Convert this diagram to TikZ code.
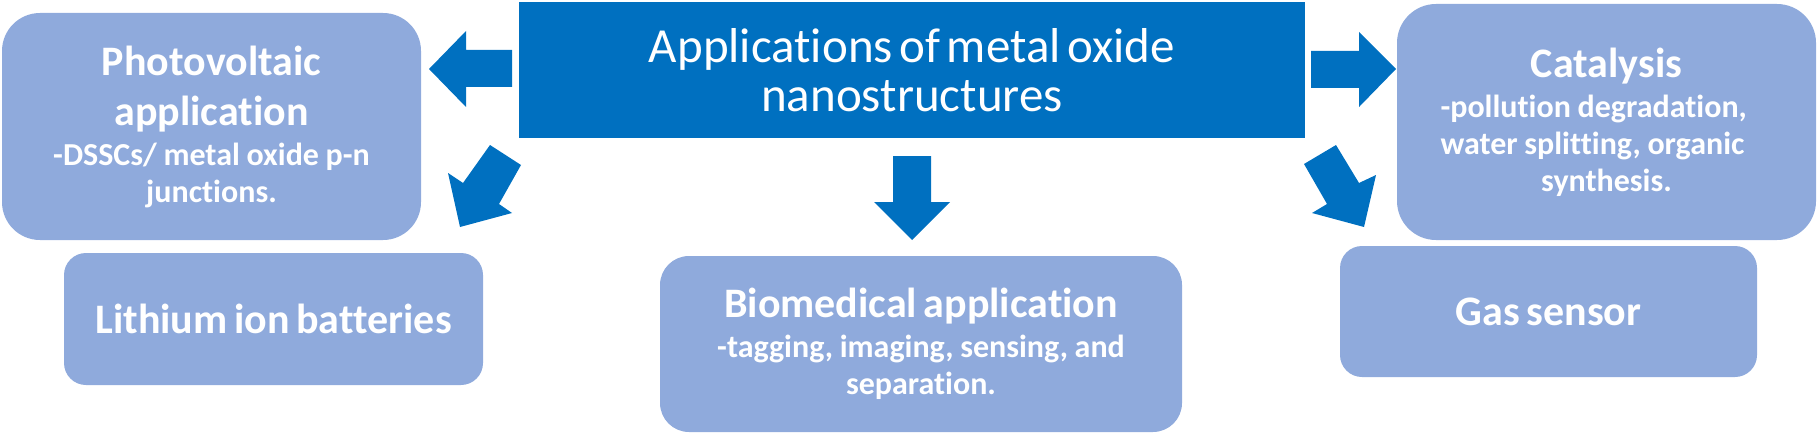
\documentclass[tikz,border=0pt]{standalone}
\usepackage{fontspec}
\setmainfont{Carlito}[Ligatures=NoCommon]
\definecolor{deepblue}{HTML}{0070C0}
\definecolor{paleblue}{HTML}{8FAADC}
\newcommand\ttlfont{\fontsize{21pt}{25pt}\selectfont\bfseries}
\newcommand\sbtfont{\fontsize{16pt}{18.5pt}\selectfont\bfseries}
\begin{document}
\begin{tikzpicture}[x=0.5pt,y=-0.5pt,
  appbox/.style={fill=paleblue, draw=none, text=white, align=center, inner sep=0pt},
  mainbox/.style={fill=deepblue, draw=none, text=white, align=center, inner sep=0pt},
  blockarrow/.style={fill=deepblue, draw=none}]
\useasboundingbox (0,0) rectangle (1818,433);
% central box
\node[mainbox, minimum width=393pt, minimum height=68pt, text width=380pt] (main) at (912,70)
  {\fontsize{24.5pt}{24.5pt}\selectfont Applications of metal oxide\\nanostructures\par};
% application boxes
\node[appbox, rounded corners=19pt, minimum width=209.5pt, minimum height=113.5pt, text width=200pt] (pv) at (211.5,126.5)
  {\ttlfont Photovoltaic\\application\par\vspace{1.5pt}\sbtfont -DSSCs/ metal oxide p-n\\junctions.\par};
\node[appbox, rounded corners=11pt, minimum width=209.5pt, minimum height=66pt, text width=200pt] (li) at (273.5,319)
  {\ttlfont Lithium ion batteries\par};
\node[appbox, rounded corners=14.5pt, minimum width=261pt, minimum height=88pt, text width=250pt] (bio) at (921,344)
  {\ttlfont Biomedical application\par\vspace{1.5pt}\sbtfont -tagging, imaging, sensing, and\\separation.\par};
\node[appbox, rounded corners=19.5pt, minimum width=209.5pt, minimum height=118pt, text width=200pt] (cat) at (1606.5,122)
  {\ttlfont Catalysis\par\vspace{1.5pt}\sbtfont \makebox[166pt][s]{-pollution degradation,}\\\makebox[166pt][s]{water splitting, organic}\\synthesis.\par};
\node[appbox, rounded corners=11pt, minimum width=208.5pt, minimum height=65.5pt, text width=200pt] (gas) at (1548.5,311.5)
  {\ttlfont Gas sensor\par};
% block arrows
\fill[blockarrow] (512,50) -- (466,50) -- (466,31) -- (429,69) -- (466,107) -- (466,87) -- (512,87) -- cycle;
\fill[blockarrow] (1311,51) -- (1359,51) -- (1359,32) -- (1396,69) -- (1359,107) -- (1359,88) -- (1311,88) -- cycle;
\fill[blockarrow] (893,156) -- (931,156) -- (931,202) -- (950,202) -- (912,240) -- (874,202) -- (893,202) -- cycle;
\fill[blockarrow] (490,145) -- (521,165) -- (499,204) -- (512,213) -- (460,227) -- (448,173) -- (463,183) -- cycle;
\fill[blockarrow] (1304,164) -- (1336,145) -- (1359,183) -- (1376,175) -- (1364,227) -- (1312,213) -- (1327,204) -- cycle;
\end{tikzpicture}
\end{document}
